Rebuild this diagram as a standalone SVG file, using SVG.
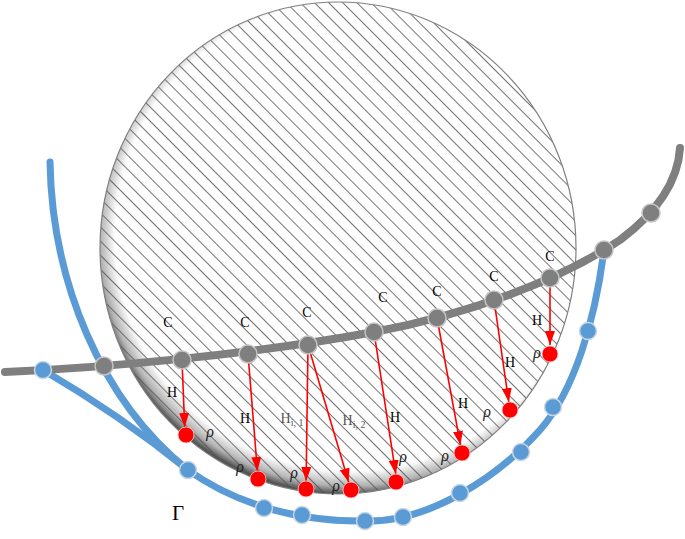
<svg xmlns="http://www.w3.org/2000/svg" width="685" height="539" viewBox="0 0 685 539">
<defs>
  <pattern id="hatch" width="10" height="10" patternUnits="userSpaceOnUse" patternTransform="rotate(-45)">
    <line x1="0" y1="0" x2="0" y2="10" stroke="#505050" stroke-width="1.6"/>
  </pattern>
  <radialGradient id="shade" gradientUnits="userSpaceOnUse" cx="350" cy="236" r="258">
    <stop offset="0" stop-color="#ffffff"/>
    <stop offset="0.91" stop-color="#ffffff"/>
    <stop offset="0.97" stop-color="#b0b0b0"/>
    <stop offset="1" stop-color="#555555"/>
  </radialGradient>
  <marker id="arrow" viewBox="0 0 14 10" refX="14" refY="5" markerWidth="14" markerHeight="10" markerUnits="userSpaceOnUse" orient="auto">
    <path d="M0,0 L14,5 L0,10 z" fill="#ff0000"/>
  </marker>
</defs>
<style>
  .gnode { fill: #7f7f7f; stroke: #c4c4c4; stroke-width: 1.5; }
  .bnode { fill: #5b9bd5; stroke: #c9d6e3; stroke-width: 1.5; }
  .rnode { fill: #ff0000; stroke: #ffd0d0; stroke-width: 0.8; }
  .arr { stroke: #ff0000; stroke-width: 1.6; fill: none; marker-end: url(#arrow); }
  .lbl { font-family: "Liberation Serif", "Times New Roman", serif; font-size: 14px; fill: #000; text-anchor: middle; }
  .big { font-family: "Liberation Serif", "Times New Roman", serif; font-size: 21px; fill: #000; text-anchor: middle; }
  .rho { font-family: "Liberation Serif", "Times New Roman", serif; font-size: 16px; font-style: italic; fill: #222; text-anchor: middle; }
  .sub { font-family: "Liberation Serif", "Times New Roman", serif; font-size: 14px; fill: #555; text-anchor: middle; }
</style>

<g id="disk">
  <ellipse cx="338" cy="248" rx="238" ry="246" fill="url(#shade)"/>
  <ellipse cx="338" cy="248" rx="238" ry="246" fill="url(#hatch)" stroke="#808080" stroke-width="1.2"/>
</g>

<g id="curves" fill="none" stroke-linecap="round">
  <path id="gamma-left" d="M50,162 C52,280 100,400 188,470" stroke="#5b9bd5" stroke-width="7"/>
  <path id="gamma-line" d="M43,370 Q120,415 188,470" stroke="#5b9bd5" stroke-width="7"/>
  <path id="gamma-main" d="M188,470 C230,500 290,522 365,521 C430,523 500,475 540,430 C575,390 595,320 604,250" stroke="#5b9bd5" stroke-width="7"/>
  <path id="c-curve" d="M5,372 C100,368 250,355 374,332 C470,314 560,280 620,240 C660,210 678,180 680,148" stroke="#7f7f7f" stroke-width="8"/>
</g>

<g id="connectors">
  <line class="arr" x1="182" y1="360" x2="184.7" y2="427"/>
  <line class="arr" x1="248" y1="354" x2="257.4" y2="471"/>
  <line class="arr" x1="308" y1="345" x2="306.1" y2="481"/>
  <line class="arr" x1="308" y1="345" x2="348.7" y2="482.3"/>
  <line class="arr" x1="374" y1="332" x2="395.8" y2="474.1"/>
  <line class="arr" x1="437" y1="318" x2="460.5" y2="445.1"/>
  <line class="arr" x1="494" y1="300" x2="508.8" y2="402.1"/>
  <line class="arr" x1="550" y1="278" x2="550" y2="345"/>
</g>

<g id="gray-nodes">
  <circle class="gnode" cx="104" cy="366" r="9"/>
  <circle class="gnode" cx="182" cy="360" r="9"/>
  <circle class="gnode" cx="248" cy="354" r="9"/>
  <circle class="gnode" cx="308" cy="345" r="9"/>
  <circle class="gnode" cx="374" cy="332" r="9"/>
  <circle class="gnode" cx="437" cy="318" r="9"/>
  <circle class="gnode" cx="494" cy="300" r="9"/>
  <circle class="gnode" cx="550" cy="278" r="9"/>
  <circle class="gnode" cx="604" cy="250" r="9"/>
  <circle class="gnode" cx="651" cy="213" r="9"/>
</g>

<g id="blue-nodes">
  <circle class="bnode" cx="43" cy="370" r="8.5"/>
  <circle class="bnode" cx="188" cy="470" r="8.5"/>
  <circle class="bnode" cx="264" cy="508" r="8.5"/>
  <circle class="bnode" cx="302" cy="515" r="8.5"/>
  <circle class="bnode" cx="365" cy="521" r="8.5"/>
  <circle class="bnode" cx="403" cy="517" r="8.5"/>
  <circle class="bnode" cx="460" cy="493" r="8.5"/>
  <circle class="bnode" cx="521" cy="452" r="8.5"/>
  <circle class="bnode" cx="553" cy="407" r="8.5"/>
  <circle class="bnode" cx="588" cy="331" r="8.5"/>
</g>

<g id="red-nodes">
  <circle class="rnode" cx="186" cy="435" r="8"/>
  <circle class="rnode" cx="258" cy="479" r="8"/>
  <circle class="rnode" cx="306" cy="489" r="8"/>
  <circle class="rnode" cx="351" cy="490" r="8"/>
  <circle class="rnode" cx="396" cy="482" r="8"/>
  <circle class="rnode" cx="462" cy="453" r="8"/>
  <circle class="rnode" cx="510" cy="410" r="8"/>
  <circle class="rnode" cx="550" cy="354" r="8"/>
</g>

<g id="labels">
  <text class="lbl" x="168" y="327">C</text>
  <text class="lbl" x="245" y="327">C</text>
  <text class="lbl" x="307" y="317">C</text>
  <text class="lbl" x="383" y="302">C</text>
  <text class="lbl" x="437" y="296">C</text>
  <text class="lbl" x="494" y="281">C</text>
  <text class="lbl" x="550" y="261">C</text>

  <text class="lbl" x="172" y="397">H</text>
  <text class="lbl" x="245" y="423">H</text>
  <text class="sub" x="292" y="423">H<tspan font-size="10" dy="3">i, 1</tspan></text>
  <text class="sub" x="354" y="425">H<tspan font-size="10" dy="3">i, 2</tspan></text>
  <text class="lbl" x="395" y="422">H</text>
  <text class="lbl" x="463" y="408">H</text>
  <text class="lbl" x="510" y="367">H</text>
  <text class="lbl" x="537" y="325">H</text>

  <text class="rho" x="210" y="437">ρ</text>
  <text class="rho" x="240" y="472">ρ</text>
  <text class="rho" x="294" y="478">ρ</text>
  <text class="rho" x="336" y="491">ρ</text>
  <text class="rho" x="403" y="462">ρ</text>
  <text class="rho" x="445" y="461">ρ</text>
  <text class="rho" x="487" y="417">ρ</text>
  <text class="rho" x="537" y="358">ρ</text>

  <text class="big" x="178" y="520">Γ</text>
</g>
</svg>
